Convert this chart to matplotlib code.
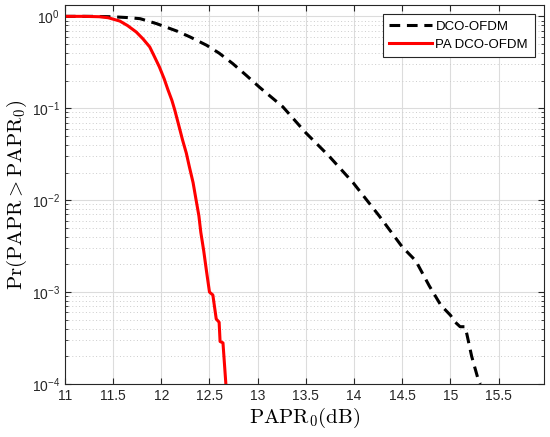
import matplotlib
matplotlib.use("Agg")
import matplotlib.pyplot as plt
from matplotlib.ticker import LogLocator, FixedLocator, NullFormatter

# DCO-OFDM CCDF
dco_x = [11.0, 11.3, 11.5, 11.65, 11.78, 11.95, 12.16, 12.30, 12.47, 12.60, 12.74,
         12.88, 13.02, 13.26, 13.50, 13.74, 13.99, 14.26, 14.50, 14.64, 14.78,
         14.90, 15.00, 15.05, 15.10, 15.15, 15.17, 15.22, 15.29, 15.31]
dco_y = [1.0, 1.0, 0.989, 0.97, 0.944, 0.834, 0.693, 0.596, 0.485, 0.398, 0.307,
         0.229, 0.169, 0.104, 0.054, 0.0302, 0.0155, 0.00676, 0.0031, 0.00219, 0.00117,
         7.2e-4, 5.6e-4, 4.7e-4, 4.2e-4, 4.2e-4, 3.5e-4, 2.0e-4, 1.1e-4, 1.0e-4]

# PA DCO-OFDM CCDF
pa_x = [11.0, 11.2, 11.36, 11.45, 11.57, 11.65, 11.74, 11.81, 11.88, 11.93, 11.98,
        12.03, 12.07, 12.11, 12.14, 12.18, 12.22, 12.26, 12.29, 12.33, 12.36, 12.39,
        12.41, 12.44, 12.47, 12.50, 12.535, 12.57, 12.60, 12.61, 12.64, 12.67]
pa_y = [1.0, 1.0, 0.991, 0.966, 0.889, 0.794, 0.676, 0.569, 0.465, 0.363, 0.282,
        0.209, 0.158, 0.122, 0.0955, 0.0661, 0.0454, 0.0324, 0.0234, 0.0155, 0.0102, 0.00676,
        0.00447, 0.00282, 0.00166, 0.001, 9.3e-4, 5.1e-4, 4.7e-4, 2.9e-4, 2.8e-4, 1.0e-4]

xticks = [11, 11.5, 12, 12.5, 13, 13.5, 14, 14.5, 15, 15.5]
xticklabels = ["11", "11.5", "12", "12.5", "13", "13.5", "14", "14.5", "15", "15.5"]

plt.rcParams['mathtext.fontset'] = 'cm'
plt.rcParams['font.family'] = ['Liberation Sans', 'DejaVu Sans']

fig = plt.figure(figsize=(5.5, 4.37), dpi=100)
ax = fig.add_axes([0.118, 0.1213, 0.871, 0.8673])

ax.plot(dco_x, dco_y, color='black', lw=2.2, linestyle=(0, (3.5, 2.2)), label='DCO-OFDM')
ax.plot(pa_x, pa_y, color='red', lw=2.2, label='PA DCO-OFDM')

ax.set_yscale('log')
ax.set_xlim(11, 15.97)
ax.set_ylim(1e-4, 1.33)
ax.xaxis.set_major_locator(FixedLocator(xticks))
ax.set_xticklabels(xticklabels)
ax.yaxis.set_major_locator(LogLocator(base=10, numticks=10))
ax.yaxis.set_minor_locator(LogLocator(base=10, subs=range(2, 10), numticks=20))
ax.yaxis.set_minor_formatter(NullFormatter())

axc = '#262626'
for s in ax.spines.values():
    s.set_color(axc)
    s.set_linewidth(0.8)
ax.tick_params(which='both', direction='in', top=True, right=True, colors=axc,
               labelsize=10)
ax.tick_params(which='major', length=4)
ax.tick_params(which='minor', length=2)

ax.grid(True, which='major', color='#dcdcdc', linewidth=0.8)
ax.grid(True, which='minor', axis='y', color='#cccccc', linestyle=(0, (1, 2.5)), linewidth=0.7)
ax.set_axisbelow(True)

ax.set_xlabel(r'$\mathrm{PAPR}_0\mathrm{(dB)}$', fontsize=15, labelpad=2)
ax.set_ylabel(r'$\mathrm{Pr}(\mathrm{PAPR} > \mathrm{PAPR}_0)$', fontsize=15, labelpad=2)

leg = ax.legend(loc='upper right', fontsize=9.5, fancybox=False, framealpha=1,
                edgecolor=axc, handlelength=3.2, borderpad=0.5, labelspacing=0.4,
                handletextpad=0.3, borderaxespad=0.7)
leg.get_frame().set_linewidth(0.8)

fig.savefig('out.png', dpi=100)
